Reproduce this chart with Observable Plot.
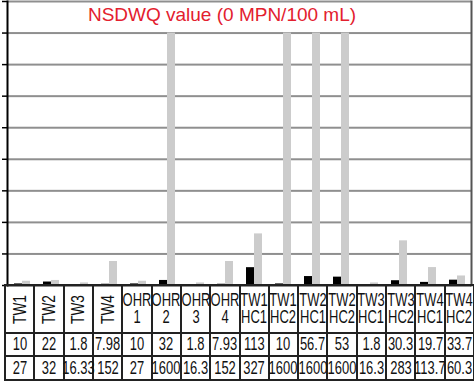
<!DOCTYPE html>
<html><head><meta charset="utf-8">
<script src="https://cdn.jsdelivr.net/npm/d3@7"></script>
<script src="https://cdn.jsdelivr.net/npm/@observablehq/plot@0.6"></script>
<style>
html,body{margin:0;padding:0;background:#fff;}
#wrap{position:relative;width:474px;height:382px;overflow:hidden;font-family:"Liberation Sans",Arial,sans-serif;}
#chart svg{display:block;}
#title{position:absolute;left:0;width:444px;top:4px;text-align:center;color:#e3202e;font-size:19px;line-height:22px;white-space:nowrap;}
table{position:absolute;left:4px;top:284px;border-collapse:collapse;table-layout:fixed;width:469px;}
td{border:2px solid #222;padding:0;text-align:center;overflow:visible;white-space:nowrap;font-size:18px;line-height:17px;color:#111;}
.line{display:flex;justify-content:center;width:100%;}
.n{display:inline-block;transform:scaleX(0.72);}
.r{display:inline-block;transform:rotate(-90deg) scaleX(0.76);}
</style></head>
<body><div id="wrap"><div id="chart"></div><div id="title"></div><table id="tbl"></table></div>
<script>
const categories = ["TW1","TW2","TW3","TW4","OHR1","OHR2","OHR3","OHR4","TW1HC1","TW1HC2","TW2HC1","TW2HC2","TW3HC1","TW3HC2","TW4HC1","TW4HC2"];
const headerLine1 = ["TW1","TW2","TW3","TW4","OHR","OHR","OHR","OHR","TW1","TW1","TW2","TW2","TW3","TW3","TW4","TW4"];
const headerLine2 = ["","","","","1","2","3","4","HC1","HC2","HC1","HC2","HC1","HC2","HC1","HC2"];
const seriesA = [10,22,1.8,7.98,10,32,1.8,7.93,113,10,56.7,53,1.8,30.3,19.7,33.7];
const seriesB = [27,32,16.33,152,27,1600,16.3,152,327,1600,1600,1600,16.3,283,113.7,60.3];
const seriesNames = ["A","B"];
const seriesColors = ["#000000","#cccccc"];
const yTicks = [0,200,400,600,800,1000,1200,1400,1600,1800];
const titleText = "NSDWQ value (0 MPN/100 mL)";

const data = [];
categories.forEach((c,i)=>{
  data.push({cat:c, series:"A", value:seriesA[i]});
  data.push({cat:c, series:"B", value:seriesB[i]});
});

const chart = Plot.plot({
  width:474, height:287,
  marginLeft:5, marginRight:2, marginTop:1, marginBottom:2,
  fx:{domain:categories, padding:0, axis:null},
  x:{domain:seriesNames, paddingInner:0, paddingOuter:0.62, axis:null},
  y:{domain:[0,1800], axis:null},
  color:{domain:seriesNames, range:seriesColors},
  marks:[
    Plot.ruleY(yTicks.slice(1), {stroke:"#8f8f8f", strokeWidth:2, strokeOpacity:1}),
    Plot.barY(data, {fx:"cat", x:"series", y:"value", fill:"series"}),
    Plot.axisY({ticks:yTicks, tickSize:5, tickFormat:()=>"", label:null, stroke:"#000", strokeWidth:1.5, facetAnchor:"left"}),
    Plot.frame({anchor:"left", facetAnchor:"left", stroke:"#000", strokeWidth:2}),
    Plot.frame({anchor:"right", facetAnchor:"right", stroke:"#555", strokeWidth:2}),
    Plot.ruleY([0], {stroke:"#222", strokeWidth:2})
  ]
});
document.getElementById("chart").appendChild(chart);
document.getElementById("title").textContent = titleText;

const line = (t, cls) => `<div class="line"><span class="${cls}">${t}</span></div>`;
const tbl = document.getElementById("tbl");
const cg = document.createElement("colgroup");
categories.forEach(()=>{const col=document.createElement("col"); col.style.width=(469/16)+"px"; cg.appendChild(col);});
tbl.appendChild(cg);
const tr1 = document.createElement("tr"); tr1.style.height="48px";
categories.forEach((c,i)=>{
  const td=document.createElement("td");
  td.innerHTML = headerLine2[i]==="" ? line(headerLine1[i],"r") : line(headerLine1[i],"n") + line(headerLine2[i],"n");
  tr1.appendChild(td);
});
tbl.appendChild(tr1);
[[seriesA,"23px"],[seriesB,"24px"]].forEach(([vals,h])=>{
  const tr=document.createElement("tr"); tr.style.height=h;
  vals.forEach(v=>{const td=document.createElement("td"); td.innerHTML=line(String(v),"n"); tr.appendChild(td);});
  tbl.appendChild(tr);
});
</script></body></html>
